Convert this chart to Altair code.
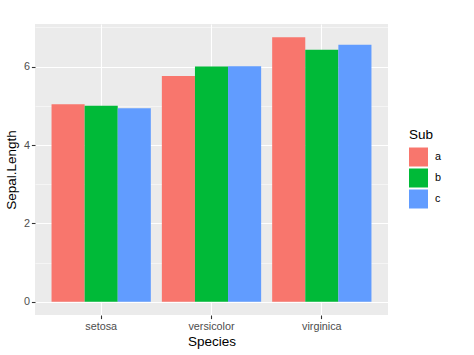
import altair as alt
import pandas as pd

# Mean sepal length by species, split into three sub-groups
species = ["setosa", "versicolor", "virginica"]
subs = ["a", "b", "c"]
setosa_vals = [5.04, 5.00, 4.94]
versicolor_vals = [5.76, 6.00, 6.01]
virginica_vals = [6.75, 6.43, 6.56]
y_ticks = [0, 1, 2, 3, 4, 5, 6, 7]
palette = ["#F8766D", "#00BA38", "#619CFF"]

rows = []
for sp, vals in zip(species, [setosa_vals, versicolor_vals, virginica_vals]):
    for s, v in zip(subs, vals):
        rows.append({"Species": sp, "Sub": s, "SepalLength": v})
df = pd.DataFrame(rows)

FONT = "Liberation Sans"
ymax = max(setosa_vals + versicolor_vals + virginica_vals)

chart = alt.Chart(df).mark_bar().encode(
    x=alt.X(
        "Species:N",
        sort=species,
        scale=alt.Scale(paddingInner=0.1, paddingOuter=0.15),
        axis=alt.Axis(
            title="Species",
            labelAngle=0,
            bandPosition=0.5,
            grid=True,
            gridColor="white",
            gridWidth=1.1,
            domain=False,
            tickColor="#333333",
            tickSize=3.6,
            tickWidth=1.1,
            labelPadding=2,
            labelColor="#4D4D4D",
            labelFontSize=10.8,
            titleFontSize=13.5,
            titleColor="black",
            titlePadding=3,
            titleFontWeight="normal",
            labelFont=FONT,
            titleFont=FONT,
        ),
    ),
    xOffset=alt.XOffset("Sub:N", sort=subs, scale=alt.Scale(paddingInner=0, paddingOuter=0)),
    y=alt.Y(
        "SepalLength:Q",
        scale=alt.Scale(domain=[-0.05 * ymax, 1.05 * ymax], nice=False, zero=False),
        axis=alt.Axis(
            title="Sepal.Length",
            values=y_ticks,
            labelExpr="datum.value % 2 === 0 ? datum.label : ''",
            grid=True,
            gridColor="white",
            gridWidth={"condition": {"test": "datum.value % 2 === 0", "value": 1.1}, "value": 0.5},
            tickOpacity={"condition": {"test": "datum.value % 2 === 0", "value": 1}, "value": 0},
            domain=False,
            tickColor="#333333",
            tickSize=3.6,
            tickWidth=1.1,
            labelPadding=2,
            labelColor="#4D4D4D",
            labelFontSize=10.8,
            titleFontSize=13.5,
            titleColor="black",
            titlePadding=5,
            titleFontWeight="normal",
            labelFont=FONT,
            titleFont=FONT,
        ),
    ),
    color=alt.Color(
        "Sub:N",
        sort=subs,
        scale=alt.Scale(domain=subs, range=palette),
        legend=alt.Legend(
            title="Sub",
            orient="none",
            legendX=374,
            legendY=104,
            symbolType="square",
            symbolSize=361,
            symbolStrokeWidth=0,
            symbolOpacity=1,
            rowPadding=2,
            labelOffset=7,
            labelFontSize=10.8,
            labelColor="black",
            labelFont=FONT,
            titleFont=FONT,
            titleFontSize=13.5,
            titleFontWeight="normal",
            titleColor="black",
            titlePadding=6,
        ),
    ),
).properties(
    width=353,
    height=291,
    padding={"left": 35, "top": 24, "right": 86, "bottom": 40},
    autosize=alt.AutoSizeParams(type="none"),
    background="white",
).configure_view(
    fill="#EBEBEB",
    stroke=None,
)

chart.save("out.html", embed_options={"renderer": "svg", "actions": False})
